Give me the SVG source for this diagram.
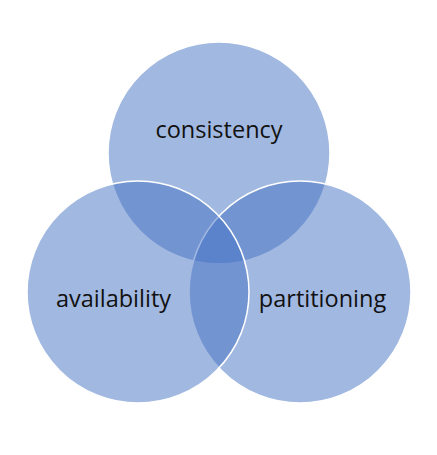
<svg xmlns="http://www.w3.org/2000/svg" width="437" height="455" viewBox="0 0 437 455">
<style>
.c{fill:#4472C4;fill-opacity:0.5;stroke:#ffffff;stroke-width:1.5}
.t{font-family:"Open Sans","Liberation Sans",sans-serif;font-size:23.5px;fill:#111111;text-anchor:middle}
</style>
<rect width="437" height="455" fill="#ffffff"/>
<g id="consistency"><circle class="c" cx="219" cy="153" r="111"/></g>
<g id="partitioning"><circle class="c" cx="300" cy="292" r="111"/></g>
<g id="availability"><circle class="c" cx="138" cy="292" r="111"/></g>
<g id="labels">
<text class="t" x="219" y="138">consistency</text>
<text class="t" x="113.5" y="307">availability</text>
<text class="t" x="322.5" y="307">partitioning</text>
</g>
<g id="connectors"/>
</svg>
